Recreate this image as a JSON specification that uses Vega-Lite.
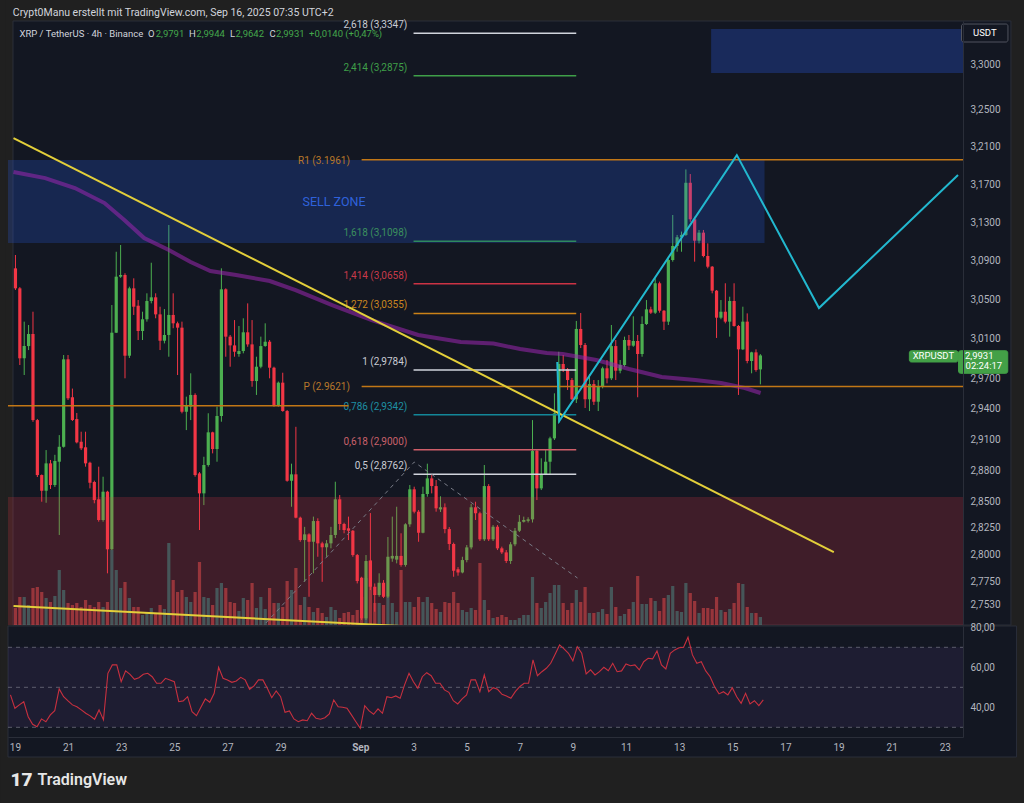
{
"$schema":"https://vega.github.io/schema/vega-lite/v6.json",
"usermeta":{"embedOptions":{"actions":false}},
"background":"#202020",
"padding":0,
"bounds":"flush",
"spacing":1,
"config":{"font":"Roboto","view":{"stroke":null},"axis":{"zindex":1,"grid":false,"ticks":false,"labelColor":"#b2b5be","labelFontSize":10,"labelFont":"Roboto","domainColor":"#2a2e39","domainWidth":1,"labelOverlap":false}},
"datasets":{
"c":[
{"t":"2025-08-18T20:00","o":3.0818,"h":3.0956,"l":3.0595,"c":3.0612,"v":17,"r":46.2},
{"t":"2025-08-19T00:00","o":3.0612,"h":3.0625,"l":2.9835,"c":2.9902,"v":28,"r":39.5},
{"t":"2025-08-19T04:00","o":2.9902,"h":3.0272,"l":2.9735,"c":3.0025,"v":28,"r":41.2},
{"t":"2025-08-19T08:00","o":3.0025,"h":3.0238,"l":2.9985,"c":3.0147,"v":20,"r":42.8},
{"t":"2025-08-19T12:00","o":3.0147,"h":3.0373,"l":2.9272,"c":2.9289,"v":37,"r":35.3},
{"t":"2025-08-19T16:00","o":2.9289,"h":2.9300,"l":2.8735,"c":2.8754,"v":38,"r":31.5},
{"t":"2025-08-19T20:00","o":2.8754,"h":2.8760,"l":2.8498,"c":2.8603,"v":33,"r":30.3},
{"t":"2025-08-20T00:00","o":2.8603,"h":2.8996,"l":2.8488,"c":2.8867,"v":27,"r":34.2},
{"t":"2025-08-20T04:00","o":2.8867,"h":2.8900,"l":2.8620,"c":2.8658,"v":23,"r":32.8},
{"t":"2025-08-20T08:00","o":2.8658,"h":2.8950,"l":2.8640,"c":2.8890,"v":29,"r":36.2},
{"t":"2025-08-20T12:00","o":2.8883,"h":2.9142,"l":2.8182,"c":2.9028,"v":55,"r":38.3},
{"t":"2025-08-20T16:00","o":2.9028,"h":2.9935,"l":2.9020,"c":2.9892,"v":35,"r":49.2},
{"t":"2025-08-20T20:00","o":2.9892,"h":2.9935,"l":2.9487,"c":2.9504,"v":22,"r":45.3},
{"t":"2025-08-21T00:00","o":2.9514,"h":2.9600,"l":2.9280,"c":2.9289,"v":20,"r":43.2},
{"t":"2025-08-21T04:00","o":2.9299,"h":2.9359,"l":2.9061,"c":2.9071,"v":22,"r":41.2},
{"t":"2025-08-21T08:00","o":2.9077,"h":2.9175,"l":2.8996,"c":2.9013,"v":18,"r":40.3},
{"t":"2025-08-21T12:00","o":2.9023,"h":2.9175,"l":2.8835,"c":2.8867,"v":25,"r":38.7},
{"t":"2025-08-21T16:00","o":2.8873,"h":2.8883,"l":2.8626,"c":2.8680,"v":20,"r":37.0},
{"t":"2025-08-21T20:00","o":2.8687,"h":2.8700,"l":2.8483,"c":2.8514,"v":18,"r":35.7},
{"t":"2025-08-22T00:00","o":2.8521,"h":2.8835,"l":2.8308,"c":2.8324,"v":23,"r":34.0},
{"t":"2025-08-22T04:00","o":2.8324,"h":2.8738,"l":2.8308,"c":2.8594,"v":18,"r":38.7},
{"t":"2025-08-22T08:00","o":2.8594,"h":2.8603,"l":2.7822,"c":2.8047,"v":23,"r":33.7},
{"t":"2025-08-22T12:00","o":2.8047,"h":3.0441,"l":2.8040,"c":3.0160,"v":75,"r":57.0},
{"t":"2025-08-22T16:00","o":3.0160,"h":3.0990,"l":3.0157,"c":3.0732,"v":55,"r":61.2},
{"t":"2025-08-22T20:00","o":3.0732,"h":3.1060,"l":3.0720,"c":3.0749,"v":37,"r":61.2},
{"t":"2025-08-23T00:00","o":3.0749,"h":3.0767,"l":2.9702,"c":2.9928,"v":43,"r":52.8},
{"t":"2025-08-23T04:00","o":2.9928,"h":3.0629,"l":2.9905,"c":3.0612,"v":27,"r":58.2},
{"t":"2025-08-23T08:00","o":3.0612,"h":3.0715,"l":3.0340,"c":3.0424,"v":18,"r":56.5},
{"t":"2025-08-23T12:00","o":3.0434,"h":3.0492,"l":3.0086,"c":3.0177,"v":18,"r":54.0},
{"t":"2025-08-23T16:00","o":3.0177,"h":3.0373,"l":3.0086,"c":3.0296,"v":10,"r":54.8},
{"t":"2025-08-23T20:00","o":3.0296,"h":3.0561,"l":3.0272,"c":3.0482,"v":13,"r":56.5},
{"t":"2025-08-24T00:00","o":3.0482,"h":3.0876,"l":3.0458,"c":3.0520,"v":17,"r":57.0},
{"t":"2025-08-24T04:00","o":3.0520,"h":3.0561,"l":3.0306,"c":3.0346,"v":12,"r":55.3},
{"t":"2025-08-24T08:00","o":3.0346,"h":3.0424,"l":2.9985,"c":3.0079,"v":20,"r":52.0},
{"t":"2025-08-24T12:00","o":3.0079,"h":3.0400,"l":3.0052,"c":3.0137,"v":16,"r":52.0},
{"t":"2025-08-24T16:00","o":3.0137,"h":3.1269,"l":2.9918,"c":3.0340,"v":82,"r":54.5},
{"t":"2025-08-24T20:00","o":3.0340,"h":3.0561,"l":3.0205,"c":3.0255,"v":45,"r":53.7},
{"t":"2025-08-25T00:00","o":3.0255,"h":3.0272,"l":2.9735,"c":3.0211,"v":33,"r":52.8},
{"t":"2025-08-25T04:00","o":3.0211,"h":3.0272,"l":2.9355,"c":2.9371,"v":35,"r":42.8},
{"t":"2025-08-25T08:00","o":2.9371,"h":2.9520,"l":2.9191,"c":2.9431,"v":28,"r":43.2},
{"t":"2025-08-25T12:00","o":2.9421,"h":2.9752,"l":2.9289,"c":2.9537,"v":23,"r":45.3},
{"t":"2025-08-25T16:00","o":2.9537,"h":2.9553,"l":2.8738,"c":2.8754,"v":33,"r":37.8},
{"t":"2025-08-25T20:00","o":2.8770,"h":2.8783,"l":2.8229,"c":2.8578,"v":63,"r":35.8},
{"t":"2025-08-26T00:00","o":2.8578,"h":2.8931,"l":2.8466,"c":2.8851,"v":28,"r":40.0},
{"t":"2025-08-26T04:00","o":2.8851,"h":2.9356,"l":2.8835,"c":2.9169,"v":27,"r":44.2},
{"t":"2025-08-26T08:00","o":2.9169,"h":2.9175,"l":2.8964,"c":2.9006,"v":20,"r":42.5},
{"t":"2025-08-26T12:00","o":2.9006,"h":2.9421,"l":2.8883,"c":2.9329,"v":37,"r":47.0},
{"t":"2025-08-26T16:00","o":2.9329,"h":3.0818,"l":2.9273,"c":3.0602,"v":42,"r":60.0},
{"t":"2025-08-26T20:00","o":3.0602,"h":3.0612,"l":2.9918,"c":3.0120,"v":37,"r":54.5},
{"t":"2025-08-27T00:00","o":3.0120,"h":3.0137,"l":2.9818,"c":3.0032,"v":23,"r":53.7},
{"t":"2025-08-27T04:00","o":3.0032,"h":3.0288,"l":2.9918,"c":2.9968,"v":22,"r":52.5},
{"t":"2025-08-27T08:00","o":2.9945,"h":3.0228,"l":2.9918,"c":2.9975,"v":14,"r":53.2},
{"t":"2025-08-27T12:00","o":2.9975,"h":3.0306,"l":2.9952,"c":3.0164,"v":27,"r":55.0},
{"t":"2025-08-27T16:00","o":3.0164,"h":3.0458,"l":3.0018,"c":3.0042,"v":25,"r":53.7},
{"t":"2025-08-27T20:00","o":3.0042,"h":3.0288,"l":2.9618,"c":2.9675,"v":42,"r":49.0},
{"t":"2025-08-28T00:00","o":2.9675,"h":2.9918,"l":2.9537,"c":2.9818,"v":17,"r":50.7},
{"t":"2025-08-28T04:00","o":2.9818,"h":3.0120,"l":2.9802,"c":3.0025,"v":28,"r":53.7},
{"t":"2025-08-28T08:00","o":3.0025,"h":3.0255,"l":3.0018,"c":3.0069,"v":16,"r":53.7},
{"t":"2025-08-28T12:00","o":3.0069,"h":3.0086,"l":2.9702,"c":2.9808,"v":37,"r":49.5},
{"t":"2025-08-28T16:00","o":2.9808,"h":2.9818,"l":2.9421,"c":2.9431,"v":22,"r":44.8},
{"t":"2025-08-28T20:00","o":2.9431,"h":2.9670,"l":2.9421,"c":2.9659,"v":22,"r":48.2},
{"t":"2025-08-29T00:00","o":2.9659,"h":2.9758,"l":2.9371,"c":2.9378,"v":18,"r":45.3},
{"t":"2025-08-29T04:00","o":2.9378,"h":2.9388,"l":2.8690,"c":2.8699,"v":44,"r":37.5},
{"t":"2025-08-29T08:00","o":2.8699,"h":2.8864,"l":2.8450,"c":2.8761,"v":35,"r":38.2},
{"t":"2025-08-29T12:00","o":2.8761,"h":2.9223,"l":2.8340,"c":2.8346,"v":57,"r":34.2},
{"t":"2025-08-29T16:00","o":2.8346,"h":2.8356,"l":2.8118,"c":2.8134,"v":20,"r":32.8},
{"t":"2025-08-29T20:00","o":2.8134,"h":2.8259,"l":2.7743,"c":2.8188,"v":28,"r":33.7},
{"t":"2025-08-30T00:00","o":2.8188,"h":2.8198,"l":2.7604,"c":2.8118,"v":18,"r":33.3},
{"t":"2025-08-30T04:00","o":2.8118,"h":2.8356,"l":2.7822,"c":2.8314,"v":13,"r":37.0},
{"t":"2025-08-30T08:00","o":2.8314,"h":2.8340,"l":2.7977,"c":2.8103,"v":17,"r":34.5},
{"t":"2025-08-30T12:00","o":2.8103,"h":2.8118,"l":2.7743,"c":2.8066,"v":12,"r":34.0},
{"t":"2025-08-30T16:00","o":2.8066,"h":2.8134,"l":2.7977,"c":2.8103,"v":8,"r":34.8},
{"t":"2025-08-30T20:00","o":2.8103,"h":2.8259,"l":2.8056,"c":2.8182,"v":18,"r":36.7},
{"t":"2025-08-31T00:00","o":2.8182,"h":2.8690,"l":2.8153,"c":2.8521,"v":15,"r":43.7},
{"t":"2025-08-31T04:00","o":2.8521,"h":2.8562,"l":2.8229,"c":2.8286,"v":7,"r":40.3},
{"t":"2025-08-31T08:00","o":2.8286,"h":2.8298,"l":2.8198,"c":2.8229,"v":12,"r":40.0},
{"t":"2025-08-31T12:00","o":2.8245,"h":2.8356,"l":2.8134,"c":2.8222,"v":13,"r":39.5},
{"t":"2025-08-31T16:00","o":2.8222,"h":2.8229,"l":2.7977,"c":2.7993,"v":10,"r":36.2},
{"t":"2025-08-31T20:00","o":2.7993,"h":2.8003,"l":2.7728,"c":2.7750,"v":15,"r":32.8},
{"t":"2025-09-01T00:00","o":2.7781,"h":2.7790,"l":2.7390,"c":2.7405,"v":28,"r":29.5},
{"t":"2025-09-01T04:00","o":2.7405,"h":2.7993,"l":2.7390,"c":2.7937,"v":47,"r":40.8},
{"t":"2025-09-01T08:00","o":2.7937,"h":2.8390,"l":2.7666,"c":2.7697,"v":65,"r":38.2},
{"t":"2025-09-01T12:00","o":2.7697,"h":2.7728,"l":2.7466,"c":2.7620,"v":22,"r":36.5},
{"t":"2025-09-01T16:00","o":2.7620,"h":2.7822,"l":2.7604,"c":2.7734,"v":22,"r":39.2},
{"t":"2025-09-01T20:00","o":2.7734,"h":2.7759,"l":2.7592,"c":2.7604,"v":20,"r":37.0},
{"t":"2025-09-02T00:00","o":2.7604,"h":2.8163,"l":2.7592,"c":2.7977,"v":28,"r":45.3},
{"t":"2025-09-02T04:00","o":2.7960,"h":2.8356,"l":2.7930,"c":2.7985,"v":22,"r":44.8},
{"t":"2025-09-02T08:00","o":2.7950,"h":2.8450,"l":2.7915,"c":2.7985,"v":13,"r":45.7},
{"t":"2025-09-02T12:00","o":2.7985,"h":2.8198,"l":2.7884,"c":2.7900,"v":55,"r":44.5},
{"t":"2025-09-02T16:00","o":2.7900,"h":2.8293,"l":2.7884,"c":2.8283,"v":23,"r":51.2},
{"t":"2025-09-02T20:00","o":2.8283,"h":2.8658,"l":2.8259,"c":2.8617,"v":23,"r":57.0},
{"t":"2025-09-03T00:00","o":2.8617,"h":2.8642,"l":2.8387,"c":2.8403,"v":18,"r":52.8},
{"t":"2025-09-03T04:00","o":2.8403,"h":2.8419,"l":2.8118,"c":2.8203,"v":28,"r":49.5},
{"t":"2025-09-03T08:00","o":2.8203,"h":2.8642,"l":2.8198,"c":2.8572,"v":23,"r":55.3},
{"t":"2025-09-03T12:00","o":2.8572,"h":2.8864,"l":2.8546,"c":2.8722,"v":28,"r":57.3},
{"t":"2025-09-03T16:00","o":2.8722,"h":2.8754,"l":2.8578,"c":2.8648,"v":22,"r":55.8},
{"t":"2025-09-03T20:00","o":2.8648,"h":2.8706,"l":2.8403,"c":2.8435,"v":16,"r":52.0},
{"t":"2025-09-04T00:00","o":2.8425,"h":2.8550,"l":2.8400,"c":2.8445,"v":13,"r":52.0},
{"t":"2025-09-04T04:00","o":2.8445,"h":2.8482,"l":2.8198,"c":2.8238,"v":23,"r":48.7},
{"t":"2025-09-04T08:00","o":2.8238,"h":2.8257,"l":2.8040,"c":2.8097,"v":22,"r":47.5},
{"t":"2025-09-04T12:00","o":2.8097,"h":2.8110,"l":2.7790,"c":2.7846,"v":33,"r":43.3},
{"t":"2025-09-04T16:00","o":2.7860,"h":2.7880,"l":2.7800,"c":2.7830,"v":22,"r":41.7},
{"t":"2025-09-04T20:00","o":2.7830,"h":2.7977,"l":2.7822,"c":2.7946,"v":15,"r":44.2},
{"t":"2025-09-05T00:00","o":2.7946,"h":2.8087,"l":2.7925,"c":2.8065,"v":13,"r":46.2},
{"t":"2025-09-05T04:00","o":2.8065,"h":2.8476,"l":2.8047,"c":2.8445,"v":17,"r":53.7},
{"t":"2025-09-05T08:00","o":2.8445,"h":2.8498,"l":2.8324,"c":2.8388,"v":15,"r":53.7},
{"t":"2025-09-05T12:00","o":2.8388,"h":2.8403,"l":2.8125,"c":2.8141,"v":62,"r":47.8},
{"t":"2025-09-05T16:00","o":2.8141,"h":2.8851,"l":2.8125,"c":2.8648,"v":25,"r":56.2},
{"t":"2025-09-05T20:00","o":2.8648,"h":2.8667,"l":2.8125,"c":2.8141,"v":15,"r":47.8},
{"t":"2025-09-06T00:00","o":2.8141,"h":2.8276,"l":2.8125,"c":2.8260,"v":7,"r":49.8},
{"t":"2025-09-06T04:00","o":2.8260,"h":2.8276,"l":2.8040,"c":2.8056,"v":8,"r":49.0},
{"t":"2025-09-06T08:00","o":2.8056,"h":2.8072,"l":2.8003,"c":2.8018,"v":10,"r":46.5},
{"t":"2025-09-06T12:00","o":2.8018,"h":2.8040,"l":2.7918,"c":2.7937,"v":8,"r":45.7},
{"t":"2025-09-06T16:00","o":2.7937,"h":2.8115,"l":2.7910,"c":2.8094,"v":5,"r":44.5},
{"t":"2025-09-06T20:00","o":2.8094,"h":2.8248,"l":2.8076,"c":2.8222,"v":5,"r":47.8},
{"t":"2025-09-07T00:00","o":2.8222,"h":2.8371,"l":2.8210,"c":2.8307,"v":7,"r":50.3},
{"t":"2025-09-07T04:00","o":2.8307,"h":2.8356,"l":2.8300,"c":2.8324,"v":10,"r":52.0},
{"t":"2025-09-07T08:00","o":2.8316,"h":2.8350,"l":2.8300,"c":2.8330,"v":10,"r":52.0},
{"t":"2025-09-07T12:00","o":2.8330,"h":2.9289,"l":2.8300,"c":2.8989,"v":48,"r":63.7},
{"t":"2025-09-07T16:00","o":2.8989,"h":2.9000,"l":2.8514,"c":2.8626,"v":22,"r":55.8},
{"t":"2025-09-07T20:00","o":2.8626,"h":2.8916,"l":2.8610,"c":2.8764,"v":17,"r":57.8},
{"t":"2025-09-08T00:00","o":2.8764,"h":2.8996,"l":2.8754,"c":2.8883,"v":23,"r":59.5},
{"t":"2025-09-08T04:00","o":2.8883,"h":2.9126,"l":2.8754,"c":2.9110,"v":32,"r":62.0},
{"t":"2025-09-08T08:00","o":2.9110,"h":2.9553,"l":2.9094,"c":2.9356,"v":40,"r":66.5},
{"t":"2025-09-08T12:00","o":2.9356,"h":2.9968,"l":2.9260,"c":2.9845,"v":40,"r":71.2},
{"t":"2025-09-08T16:00","o":2.9845,"h":2.9935,"l":2.9765,"c":2.9792,"v":22,"r":69.2},
{"t":"2025-09-08T20:00","o":2.9792,"h":2.9805,"l":2.9586,"c":2.9685,"v":15,"r":67.0},
{"t":"2025-09-09T00:00","o":2.9685,"h":2.9705,"l":2.9487,"c":2.9494,"v":22,"r":63.2},
{"t":"2025-09-09T04:00","o":2.9494,"h":3.0279,"l":2.9457,"c":3.0198,"v":35,"r":70.3},
{"t":"2025-09-09T08:00","o":3.0198,"h":3.0360,"l":3.0005,"c":3.0036,"v":23,"r":67.0},
{"t":"2025-09-09T12:00","o":3.0036,"h":3.0056,"l":2.9408,"c":2.9494,"v":38,"r":56.7},
{"t":"2025-09-09T16:00","o":2.9494,"h":2.9745,"l":2.9378,"c":2.9645,"v":12,"r":58.7},
{"t":"2025-09-09T20:00","o":2.9645,"h":2.9685,"l":2.9438,"c":2.9470,"v":12,"r":56.2},
{"t":"2025-09-10T00:00","o":2.9470,"h":2.9685,"l":2.9378,"c":2.9619,"v":13,"r":57.8},
{"t":"2025-09-10T04:00","o":2.9619,"h":2.9818,"l":2.9602,"c":2.9802,"v":16,"r":60.0},
{"t":"2025-09-10T08:00","o":2.9802,"h":2.9885,"l":2.9652,"c":2.9702,"v":11,"r":58.3},
{"t":"2025-09-10T12:00","o":2.9702,"h":3.0238,"l":2.9685,"c":3.0025,"v":38,"r":62.0},
{"t":"2025-09-10T16:00","o":3.0025,"h":3.0086,"l":2.9685,"c":2.9778,"v":18,"r":57.8},
{"t":"2025-09-10T20:00","o":2.9778,"h":2.9885,"l":2.9752,"c":2.9835,"v":9,"r":58.2},
{"t":"2025-09-11T00:00","o":2.9835,"h":3.0120,"l":2.9818,"c":3.0086,"v":11,"r":61.7},
{"t":"2025-09-11T04:00","o":3.0086,"h":3.0137,"l":2.9985,"c":3.0029,"v":16,"r":60.8},
{"t":"2025-09-11T08:00","o":3.0029,"h":3.0326,"l":3.0018,"c":3.0076,"v":23,"r":61.2},
{"t":"2025-09-11T12:00","o":3.0076,"h":3.0137,"l":2.9514,"c":2.9945,"v":49,"r":58.7},
{"t":"2025-09-11T16:00","o":2.9945,"h":3.0326,"l":2.9918,"c":3.0248,"v":21,"r":62.8},
{"t":"2025-09-11T20:00","o":3.0248,"h":3.0492,"l":3.0238,"c":3.0397,"v":21,"r":64.5},
{"t":"2025-09-12T00:00","o":3.0397,"h":3.0424,"l":3.0350,"c":3.0363,"v":27,"r":64.2},
{"t":"2025-09-12T04:00","o":3.0363,"h":3.0715,"l":3.0350,"c":3.0664,"v":24,"r":68.2},
{"t":"2025-09-12T08:00","o":3.0664,"h":3.0681,"l":3.0363,"c":3.0383,"v":14,"r":61.2},
{"t":"2025-09-12T12:00","o":3.0383,"h":3.0390,"l":3.0187,"c":3.0272,"v":27,"r":59.2},
{"t":"2025-09-12T16:00","o":3.0272,"h":3.0939,"l":3.0238,"c":3.0904,"v":30,"r":67.0},
{"t":"2025-09-12T20:00","o":3.0904,"h":3.1374,"l":3.0887,"c":3.1050,"v":39,"r":68.7},
{"t":"2025-09-13T00:00","o":3.1050,"h":3.1165,"l":3.0990,"c":3.1141,"v":14,"r":69.8},
{"t":"2025-09-13T04:00","o":3.1141,"h":3.1200,"l":3.0990,"c":3.1165,"v":13,"r":70.0},
{"t":"2025-09-13T08:00","o":3.1165,"h":3.1857,"l":3.1155,"c":3.1715,"v":42,"r":75.0},
{"t":"2025-09-13T12:00","o":3.1715,"h":3.1808,"l":3.1303,"c":3.1329,"v":32,"r":66.2},
{"t":"2025-09-13T16:00","o":3.1329,"h":3.1356,"l":3.0887,"c":3.1105,"v":24,"r":62.0},
{"t":"2025-09-13T20:00","o":3.1105,"h":3.1217,"l":3.1077,"c":3.1189,"v":12,"r":62.8},
{"t":"2025-09-14T00:00","o":3.1189,"h":3.1217,"l":3.0932,"c":3.0946,"v":17,"r":58.2},
{"t":"2025-09-14T04:00","o":3.0946,"h":3.1077,"l":3.0818,"c":3.0835,"v":17,"r":55.3},
{"t":"2025-09-14T08:00","o":3.0835,"h":3.0842,"l":3.0561,"c":3.0588,"v":16,"r":50.3},
{"t":"2025-09-14T12:00","o":3.0588,"h":3.0595,"l":3.0107,"c":3.0312,"v":28,"r":46.7},
{"t":"2025-09-14T16:00","o":3.0312,"h":3.0492,"l":3.0296,"c":3.0373,"v":15,"r":47.8},
{"t":"2025-09-14T20:00","o":3.0373,"h":3.0664,"l":3.0255,"c":3.0272,"v":13,"r":46.2},
{"t":"2025-09-15T00:00","o":3.0272,"h":3.0526,"l":3.0120,"c":3.0482,"v":16,"r":49.8},
{"t":"2025-09-15T04:00","o":3.0482,"h":3.0664,"l":3.0221,"c":3.0228,"v":22,"r":45.3},
{"t":"2025-09-15T08:00","o":3.0228,"h":3.0238,"l":2.9537,"c":2.9992,"v":42,"r":42.0},
{"t":"2025-09-15T12:00","o":2.9992,"h":3.0424,"l":2.9985,"c":3.0272,"v":41,"r":47.0},
{"t":"2025-09-15T16:00","o":3.0272,"h":3.0356,"l":2.9852,"c":2.9875,"v":18,"r":41.7},
{"t":"2025-09-15T20:00","o":2.9875,"h":2.9968,"l":2.9752,"c":2.9962,"v":12,"r":43.3},
{"t":"2025-09-16T00:00","o":2.9962,"h":2.9992,"l":2.9768,"c":2.9785,"v":12,"r":40.8},
{"t":"2025-09-16T04:00","o":2.9791,"h":2.9944,"l":2.9642,"c":2.9931,"v":8,"r":43.7}
],
"ma":[
{"t":"2025-08-18T18:13","m":3.1829},{"t":"2025-08-19T23:08","m":3.1765},{"t":"2025-08-21T02:13","m":3.1659},{"t":"2025-08-22T05:19","m":3.1500},{"t":"2025-08-22T23:23","m":3.1321},{"t":"2025-08-23T17:27","m":3.1133},{"t":"2025-08-24T16:02","m":3.1008},{"t":"2025-08-25T11:55","m":3.0883},{"t":"2025-08-26T05:59","m":3.0790},{"t":"2025-08-27T05:24","m":3.0749},{"t":"2025-08-28T12:11","m":3.0687},{"t":"2025-08-29T11:43","m":3.0594},{"t":"2025-08-30T21:06","m":3.0441},{"t":"2025-09-01T09:13","m":3.0288},{"t":"2025-09-03T03:40","m":3.0137},{"t":"2025-09-04T18:32","m":3.0066},{"t":"2025-09-06T00:21","m":3.0051},{"t":"2025-09-07T00:42","m":2.9995},{"t":"2025-09-08T01:05","m":2.9955},{"t":"2025-09-08T15:32","m":2.9945},{"t":"2025-09-09T22:16","m":2.9885},{"t":"2025-09-11T04:06","m":2.9795},{"t":"2025-09-12T09:55","m":2.9715},{"t":"2025-09-13T16:37","m":2.9685},{"t":"2025-09-14T16:06","m":2.9655},{"t":"2025-09-15T13:48","m":2.9606},{"t":"2025-09-16T04:13","m":2.9556}
],
"zones":[
{"z":"red","t1":"2025-08-18T00:00","t2":"2025-09-26T00:00","p1":2.8543,"p2":2.70},
{"z":"sell","t1":"2025-08-18T00:00","t2":"2025-09-16T07:48","p1":3.1958,"p2":3.1080},
{"z":"box","t1":"2025-09-14T07:02","t2":"2025-09-26T00:00","p1":3.3393,"p2":3.2904}
],
"fib":[
{"f":"2,618 (3,3347)","p":3.3347},{"f":"2,414 (3,2875)","p":3.2875},{"f":"1,618 (3,1098)","p":3.1098},{"f":"1,414 (3,0658)","p":3.0658},{"f":"1,272 (3,0355)","p":3.0355},{"f":"1 (2,9784)","p":2.9784},{"f":"0,786 (2,9342)","p":2.9342},{"f":"0,618 (2,9000)","p":2.9000},{"f":"0,5 (2,8762)","p":2.8762}
],
"piv":[
{"n":"R1 (3.1961)","p":3.1961,"t1":"2025-09-01T00:00","t2":"2025-09-26T00:00"},
{"n":"P (2.9621)","p":2.9621,"t1":"2025-09-01T00:00","t2":"2025-09-26T00:00"},
{"n":"","p":2.9430,"t1":"2025-08-18T00:00","t2":"2025-08-31T12:00"}
],
"yl":[
{"id":"a","t":"2025-08-18T18:13","p":3.2194},{"id":"a","t":"2025-09-18T23:02","p":2.8021},
{"id":"b","t":"2025-08-18T18:13","p":2.7518},{"id":"b","t":"2025-09-03T06:22","p":2.7325}
],
"cy":[
{"t":"2025-09-08T10:36","p":2.9865},{"t":"2025-09-08T12:24","p":2.9280},{"t":"2025-09-15T06:30","p":3.2011},{"t":"2025-09-18T09:30","p":3.0410},{"t":"2025-09-23T16:24","p":3.1797}
],
"dl":[
{"t":"2025-08-28T08:34","p":2.7362},{"t":"2025-09-03T00:04","p":2.8880},{"t":"2025-09-09T05:05","p":2.7778}
],
"notes":[
{"s":"Crypt0Manu erstellt mit TradingView.com, Sep 16, 2025 07:35 UTC+2","t":"2025-08-18T17:36","p":3.3569,"k":"ttl"},
{"s":"XRP / TetherUS · 4h · Binance","t":"2025-08-18T23:38","p":3.3337,"k":"hdr"},
{"s":"O","t":"2025-08-23T21:06","p":3.3337,"k":"hdr"},
{"s":"2,9791","t":"2025-08-24T04:00","p":3.3337,"k":"val"},
{"s":"H","t":"2025-08-25T10:24","p":3.3337,"k":"hdr"},
{"s":"2,9944","t":"2025-08-25T17:06","p":3.3337,"k":"val"},
{"s":"L","t":"2025-08-26T23:48","p":3.3337,"k":"hdr"},
{"s":"2,9642","t":"2025-08-27T04:48","p":3.3337,"k":"val"},
{"s":"C","t":"2025-08-28T11:54","p":3.3337,"k":"hdr"},
{"s":"2,9931","t":"2025-08-28T17:54","p":3.3337,"k":"val"},
{"s":"+0,0140 (+0,47%)","t":"2025-08-30T00:00","p":3.3337,"k":"val"},
{"s":"SELL ZONE","t":"2025-08-29T18:00","p":3.1511,"k":"sell"}
],
"tags":[
{"id":"xrp","t1":"2025-09-21T20:00","t2":"2025-09-23T16:24","p1":2.9978,"p2":2.9865},
{"id":"ax","t1":"2025-09-23T16:54","t2":"2025-09-25T13:48","p1":2.9978,"p2":2.9752},
{"id":"usdt","t1":"2025-09-23T19:36","t2":"2025-09-25T14:00","p1":3.3449,"p2":3.3248}
],
"tagtxt":[
{"s":"XRPUSDT","t":"2025-09-22T17:54","p":2.9921},
{"s":"2,9931","t":"2025-09-24T11:48","p":2.9926},
{"s":"02:24:17","t":"2025-09-24T16:00","p":2.9825},
{"s":"USDT","t":"2025-09-24T16:54","p":3.3348}
]
},
"vconcat":[
{"width":955,"height":604,
"resolve":{"scale":{"y":"independent"}},
"layer":[
{"layer":[
{"data":{"values":[{}]},"mark":{"type":"rect","fill":"#202020"},
"encoding":{"x":{"datum":{"year":2025,"month":8,"date":18,"hours":11},"type":"temporal","scale":{"domain":[{"year":2025,"month":8,"date":18,"hours":17,"minutes":46},{"year":2025,"month":9,"date":23,"hours":16,"minutes":24}]},"axis":null},"x2":{"datum":{"year":2025,"month":9,"date":26}},
"y":{"datum":3.3719,"type":"quantitative","scale":{"type":"log","domain":[2.7344,3.3483],"nice":false},"axis":null},"y2":{"datum":2.7344}}},
{"data":{"values":[{}]},"mark":{"type":"rect","fill":"#131722","stroke":"#2a2e39","strokeWidth":1},
"encoding":{"x":{"datum":{"year":2025,"month":8,"date":18,"hours":17,"minutes":46},"type":"temporal","axis":null},"x2":{"datum":{"year":2025,"month":9,"date":25,"hours":16,"minutes":42}},
"y":{"datum":3.3483,"type":"quantitative","scale":{"type":"log","domain":[2.7344,3.3483],"nice":false},"axis":null},"y2":{"datum":2.7344}}}
]},
{"data":{"name":"c"},"mark":{"type":"bar","width":3.2},
"encoding":{"x":{"field":"t","type":"temporal","axis":null},
"y":{"field":"v","type":"quantitative","scale":{"domain":[0,604],"nice":false},"axis":null},
"color":{"condition":{"test":"datum.c >= datum.o","value":"rgba(38,166,154,0.5)"},"value":"rgba(239,83,80,0.5)"}}},
{"resolve":{"scale":{"color":"independent","fill":"independent","stroke":"independent"}},
"layer":[
{"data":{"name":"c"},"mark":{"type":"rule","strokeWidth":1},
"encoding":{"x":{"field":"t","type":"temporal","scale":{"domain":[{"year":2025,"month":8,"date":18,"hours":17,"minutes":46},{"year":2025,"month":9,"date":23,"hours":16,"minutes":24}]},"axis":null},
"y":{"field":"l","type":"quantitative","scale":{"type":"log","domain":[2.7344,3.3483],"nice":false},"title":null},"y2":{"field":"h"},
"color":{"condition":{"test":"datum.c >= datum.o","value":"#4caf50"},"value":"#f23645"}}},
{"data":{"name":"c"},"mark":{"type":"bar","width":3.2},
"encoding":{"x":{"field":"t","type":"temporal","axis":null},
"y":{"field":"o","type":"quantitative","scale":{"type":"log","domain":[2.7344,3.3483],"nice":false},"title":null,
"axis":{"orient":"right","zindex":1,"values":[2.753,2.775,2.8,2.825,2.85,2.88,2.91,2.94,2.97,3.01,3.05,3.09,3.13,3.17,3.21,3.25,3.3],"labelExpr":"replace(format(datum.value,'.4f'),'.',',')","labelPadding":7,"title":null,"domain":true,"labelOverlap":false}},
"y2":{"field":"c"},
"color":{"condition":{"test":"datum.c >= datum.o","value":"#4caf50"},"value":"#f23645"}}},
{"data":{"name":"zones"},"mark":{"type":"rect","clip":true},
"encoding":{"x":{"field":"t1","type":"temporal","axis":null},"x2":{"field":"t2"},
"y":{"field":"p1","type":"quantitative","scale":{"type":"log","domain":[2.7344,3.3483],"nice":false},"title":null},"y2":{"field":"p2"},
"color":{"field":"z","type":"nominal","scale":{"domain":["red","sell","box"],"range":["rgba(242,54,69,0.2)","rgba(41,98,255,0.21)","rgba(41,98,255,0.26)"]},"legend":null}}},
{"data":{"name":"ma"},"mark":{"type":"line","color":"#9c27b0","opacity":0.55,"strokeWidth":4,"clip":true},
"encoding":{"x":{"field":"t","type":"temporal","axis":null},"y":{"field":"m","type":"quantitative","scale":{"type":"log","domain":[2.7344,3.3483],"nice":false},"title":null}}},
{"data":{"name":"fib"},"mark":{"type":"rule","strokeWidth":1.5},
"encoding":{"x":{"datum":{"year":2025,"month":9,"date":2,"hours":23,"minutes":24},"type":"temporal","axis":null},"x2":{"datum":{"year":2025,"month":9,"date":9,"hours":3,"minutes":55}},
"y":{"field":"p","type":"quantitative","scale":{"type":"log","domain":[2.7344,3.3483],"nice":false},"title":null},
"color":{"field":"f","type":"nominal","scale":{"domain":["2,618 (3,3347)","2,414 (3,2875)","1,618 (3,1098)","1,414 (3,0658)","1,272 (3,0355)","1 (2,9784)","0,786 (2,9342)","0,618 (2,9000)","0,5 (2,8762)"],"range":["#d1d4dc","#3f9f49","#2f8a5e","#cc3344","#cc8218","#d1d4dc","#138799","#cf5e69","#d1d4dc"]},"legend":null}}},
{"data":{"name":"fib"},"mark":{"type":"text","align":"right","baseline":"middle","dy":-8,"fontSize":10},
"encoding":{"x":{"datum":{"year":2025,"month":9,"date":2,"hours":17,"minutes":44},"type":"temporal","axis":null},
"y":{"field":"p","type":"quantitative","scale":{"type":"log","domain":[2.7344,3.3483],"nice":false},"title":null},
"text":{"field":"f"},
"color":{"field":"f","type":"nominal","scale":{"domain":["2,618 (3,3347)","2,414 (3,2875)","1,618 (3,1098)","1,414 (3,0658)","1,272 (3,0355)","1 (2,9784)","0,786 (2,9342)","0,618 (2,9000)","0,5 (2,8762)"],"range":["#c8cbd3","#3f9f49","#3b8f5e","#c83a4a","#c9861f","#c8cbd3","#1e8fa3","#c8606a","#c8cbd3"]},"legend":null}}},
{"data":{"name":"piv"},"mark":{"type":"rule","strokeWidth":1.5,"color":"#c27716","clip":true},
"encoding":{"x":{"field":"t1","type":"temporal","axis":null},"x2":{"field":"t2"},
"y":{"field":"p","type":"quantitative","scale":{"type":"log","domain":[2.7344,3.3483],"nice":false},"title":null}}},
{"data":{"name":"piv"},"mark":{"type":"text","align":"right","baseline":"middle","fontSize":10,"color":"#b9772b","dy":1},
"encoding":{"x":{"datum":{"year":2025,"month":8,"date":31,"hours":13,"minutes":20},"type":"temporal","axis":null},
"y":{"field":"p","type":"quantitative","scale":{"type":"log","domain":[2.7344,3.3483],"nice":false},"title":null},"text":{"field":"n"}}},
{"data":{"name":"yl"},"mark":{"type":"line","color":"#e3cf3a","strokeWidth":2,"clip":true},
"encoding":{"x":{"field":"t","type":"temporal","axis":null},"y":{"field":"p","type":"quantitative","scale":{"type":"log","domain":[2.7344,3.3483],"nice":false},"title":null},"detail":{"field":"id"}}},
{"data":{"name":"cy"},"mark":{"type":"line","color":"#22b8cf","strokeWidth":2,"clip":true},
"encoding":{"x":{"field":"t","type":"temporal","axis":null},"y":{"field":"p","type":"quantitative","scale":{"type":"log","domain":[2.7344,3.3483],"nice":false},"title":null}}},
{"data":{"name":"dl"},"mark":{"type":"line","color":"#787b86","strokeWidth":1,"strokeDash":[4,4],"clip":true},
"encoding":{"x":{"field":"t","type":"temporal","axis":null},"y":{"field":"p","type":"quantitative","scale":{"type":"log","domain":[2.7344,3.3483],"nice":false},"title":null}}},
{"data":{"name":"notes"},"transform":[{"filter":"datum.k == 'ttl'"}],"mark":{"type":"text","align":"left","baseline":"middle","fontSize":10.5,"color":"#d1d4dc"},
"encoding":{"x":{"field":"t","type":"temporal","axis":null},"y":{"field":"p","type":"quantitative","scale":{"type":"log","domain":[2.7344,3.3483],"nice":false},"title":null},"text":{"field":"s"}}},
{"data":{"name":"notes"},"transform":[{"filter":"datum.k == 'hdr' || datum.k == 'val'"}],"mark":{"type":"text","align":"left","baseline":"middle","fontSize":9.5},
"encoding":{"x":{"field":"t","type":"temporal","axis":null},"y":{"field":"p","type":"quantitative","scale":{"type":"log","domain":[2.7344,3.3483],"nice":false},"title":null},
"text":{"field":"s"},
"color":{"field":"k","type":"nominal","scale":{"domain":["hdr","val"],"range":["#d1d4dc","#44a74b"]},"legend":null}}},
{"data":{"name":"notes"},"transform":[{"filter":"datum.k == 'sell'"}],"mark":{"type":"text","align":"left","baseline":"middle","fontSize":12.5,"color":"#2f62db"},
"encoding":{"x":{"field":"t","type":"temporal","axis":null},"y":{"field":"p","type":"quantitative","scale":{"type":"log","domain":[2.7344,3.3483],"nice":false},"title":null},"text":{"field":"s"}}},
{"data":{"name":"tags"},"mark":{"type":"rect","cornerRadius":2,"strokeWidth":1},
"encoding":{"x":{"field":"t1","type":"temporal","axis":null},"x2":{"field":"t2"},
"y":{"field":"p1","type":"quantitative","scale":{"type":"log","domain":[2.7344,3.3483],"nice":false},"title":null},"y2":{"field":"p2"},
"fill":{"field":"id","type":"nominal","scale":{"domain":["xrp","ax","usdt"],"range":["#43a047","#43a047","#131722"]},"legend":null},
"stroke":{"field":"id","type":"nominal","scale":{"domain":["xrp","ax","usdt"],"range":["#43a047","#43a047","#50535e"]},"legend":null}}},
{"data":{"name":"tagtxt"},"mark":{"type":"text","align":"center","baseline":"middle","fontSize":9.5,"color":"#ffffff"},
"encoding":{"x":{"field":"t","type":"temporal","axis":null},"y":{"field":"p","type":"quantitative","scale":{"type":"log","domain":[2.7344,3.3483],"nice":false},"title":null},"text":{"field":"s"}}}
]}
]},
{"width":955,"height":111,
"layer":[
{"data":{"values":[{}]},"mark":{"type":"rect","fill":"#202020"},
"encoding":{"x":{"datum":{"year":2025,"month":8,"date":18,"hours":11},"type":"temporal","scale":{"domain":[{"year":2025,"month":8,"date":18,"hours":17,"minutes":46},{"year":2025,"month":9,"date":23,"hours":16,"minutes":24}]},"title":null},"x2":{"datum":{"year":2025,"month":9,"date":26}},
"y":{"datum":80.65,"type":"quantitative","scale":{"domain":[25.15,80.65],"nice":false,"zero":false},"title":null},"y2":{"datum":-7.85}}},
{"data":{"values":[{}]},"mark":{"type":"rect","fill":"#131722","stroke":"#2a2e39","strokeWidth":1},
"encoding":{"x":{"datum":{"year":2025,"month":8,"date":18,"hours":17,"minutes":46},"type":"temporal","title":null},"x2":{"datum":{"year":2025,"month":9,"date":25,"hours":16,"minutes":42}},
"y":{"datum":80.65,"type":"quantitative","title":null},"y2":{"datum":15.15}}},
{"data":{"values":[{}]},"mark":{"type":"rect","fill":"#7e57c2","opacity":0.1},
"encoding":{"x":{"datum":{"year":2025,"month":8,"date":18,"hours":17,"minutes":46},"type":"temporal","title":null},"x2":{"datum":{"year":2025,"month":9,"date":23,"hours":16,"minutes":24}},
"y":{"datum":70,"type":"quantitative","title":null},"y2":{"datum":30}}},
{"data":{"values":[{"lv":70},{"lv":50},{"lv":30}]},"mark":{"type":"rule","color":"#787b86","strokeDash":[4,4],"opacity":0.7},
"encoding":{"x":{"datum":{"year":2025,"month":8,"date":18,"hours":17,"minutes":46},"type":"temporal","title":null},"x2":{"datum":{"year":2025,"month":9,"date":23,"hours":16,"minutes":24}},
"y":{"field":"lv","type":"quantitative","title":null}}},
{"data":{"name":"c"},"mark":{"type":"line","color":"#c8303f","strokeWidth":1.1},
"encoding":{"x":{"field":"t","type":"temporal","title":null,
"axis":{"zindex":1,"values":[{"year":2025,"month":8,"date":19},{"year":2025,"month":8,"date":21},{"year":2025,"month":8,"date":23},{"year":2025,"month":8,"date":25},{"year":2025,"month":8,"date":27},{"year":2025,"month":8,"date":29},{"year":2025,"month":9,"date":1},{"year":2025,"month":9,"date":3},{"year":2025,"month":9,"date":5},{"year":2025,"month":9,"date":7},{"year":2025,"month":9,"date":9},{"year":2025,"month":9,"date":11},{"year":2025,"month":9,"date":13},{"year":2025,"month":9,"date":15},{"year":2025,"month":9,"date":17},{"year":2025,"month":9,"date":19},{"year":2025,"month":9,"date":21},{"year":2025,"month":9,"date":23}],
"labelExpr":"date(datum.value) == 1 ? 'Sep' : '' + date(datum.value)",
"labelFontWeight":{"condition":{"test":"date(datum.value) == 1","value":"bold"},"value":"normal"},
"labelPadding":5,"title":null,"domain":true,"labelFlush":false,"labelOverlap":false}},
"y":{"field":"r","type":"quantitative","title":null,"axis":{"orient":"right","zindex":1,"values":[40,60,80],"labelExpr":"replace(format(datum.value,'.2f'),'.',',')","labelPadding":7,"title":null,"domain":true}}}},
{"data":{"values":[{}]},"mark":{"type":"text","text":"17","align":"left","baseline":"middle","fontSize":19,"fontWeight":900,"color":"#e6e6e6"},
"encoding":{"x":{"datum":{"year":2025,"month":8,"date":18,"hours":20},"type":"temporal","title":null},"y":{"datum":3.65,"type":"quantitative","title":null}}},
{"data":{"values":[{}]},"mark":{"type":"text","text":"TradingView","align":"left","baseline":"middle","fontSize":16,"fontWeight":600,"color":"#e6e6e6"},
"encoding":{"x":{"datum":{"year":2025,"month":8,"date":19,"hours":20,"minutes":24},"type":"temporal","title":null},"y":{"datum":3.65,"type":"quantitative","title":null}}}
]}
]
}
